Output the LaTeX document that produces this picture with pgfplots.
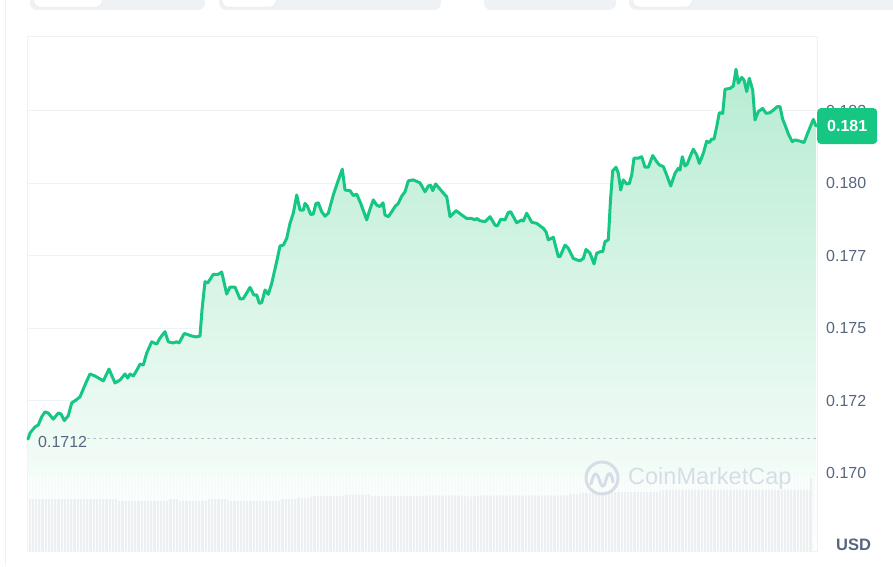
\documentclass[border=0pt]{standalone}
\usepackage{pgfplots}
\usepackage{pgfplotstable}
\pgfplotsset{compat=1.18}
\usepackage{fontspec}
\setmainfont{Liberation Sans}
\definecolor{cmcgreen}{HTML}{16C784}
\definecolor{gridgray}{HTML}{EFF2F5}
\definecolor{txtgray}{HTML}{58667E}
\definecolor{volgray}{HTML}{EDF0F3}
\definecolor{wm}{HTML}{D3DAE5}
\definecolor{dotgray}{HTML}{A6B0C3}
\definecolor{fillgreen}{RGB}{183,236,210}

\pgfplotstableread{
x y
0 0.17117
2 0.17138
7 0.17159
10.3 0.17166
13.7 0.17194
17 0.17211
20.3 0.17207
25.3 0.17186
30.3 0.17207
33 0.17204
36.3 0.17181
40.3 0.17198
43.7 0.17242
48 0.17252
52 0.17263
57 0.17304
62 0.17342
67 0.17335
72 0.17325
75.3 0.17318
81 0.17359
87 0.17311
92 0.17321
97 0.17342
99.7 0.17328
102 0.17342
105.3 0.17335
109 0.17356
112 0.17376
115.3 0.17373
118.7 0.17414
123.7 0.17453
128.7 0.17445
132 0.17466
137 0.17488
140.3 0.17453
145.3 0.17449
148.7 0.17453
151 0.17449
156.3 0.17482
163.7 0.17473
168 0.17470
172 0.17473
174 0.17563
177 0.17661
179.7 0.17656
185.3 0.17686
190.3 0.17686
193.7 0.17694
198.7 0.17618
202 0.17642
207 0.17642
212 0.17601
215.3 0.17602
222 0.17641
226 0.17614
228.7 0.17615
231.3 0.17586
233.7 0.17588
237 0.17632
240.3 0.17617
243.7 0.17655
248.7 0.17730
252 0.17784
255.3 0.17787
258.7 0.17810
262 0.17862
265.3 0.17897
268.7 0.17960
272 0.17908
275.3 0.17908
277 0.17931
279.3 0.17922
282.7 0.17893
285.3 0.17894
288 0.17931
290.3 0.17933
293.7 0.17902
297 0.17887
300.3 0.17897
305.3 0.17960
310 0.18008
314.3 0.18049
317 0.17977
322 0.17975
325.3 0.17958
328.7 0.17963
332.7 0.17931
338.7 0.17874
342 0.17911
345.3 0.17943
348.7 0.17925
352 0.17920
355 0.17933
357 0.17891
360.3 0.17885
363.7 0.17902
367 0.17920
370.3 0.17931
373.7 0.17956
377 0.17971
380.3 0.18009
385.3 0.18012
392 0.18002
397 0.17971
400.3 0.17991
402.7 0.17994
404.7 0.17975
407.7 0.17998
412 0.17980
417 0.17960
418.7 0.17954
422 0.17885
428 0.17906
433.7 0.17891
438.7 0.17879
443.7 0.17879
447 0.17874
448.7 0.17879
452 0.17871
457 0.17868
462 0.17885
467 0.17856
469.3 0.17853
472.7 0.17876
477 0.17874
480.3 0.17900
482.7 0.17902
488.7 0.17864
493.7 0.17874
495.3 0.17870
498.7 0.17897
503.7 0.17866
508.7 0.17862
515.3 0.17845
518 0.17833
520.3 0.17805
525.3 0.17814
530.3 0.17747
532 0.17747
537 0.17787
540.3 0.17776
545.3 0.17741
548.7 0.17736
552 0.17733
555.3 0.17741
558 0.17772
562 0.17759
566 0.17722
568.7 0.17759
572 0.17764
574.7 0.17764
577 0.17799
580.3 0.17805
582.5 0.17943
584.7 0.18043
588 0.18056
590.3 0.18035
592.7 0.17977
595.3 0.18012
598.7 0.17998
601.3 0.18000
603.7 0.18029
606 0.18087
610.3 0.18087
613.7 0.18092
617 0.18056
620.3 0.18056
624.7 0.18096
628.7 0.18075
631.3 0.18064
635.3 0.18058
638.7 0.18029
642.7 0.17991
647 0.18035
650.3 0.18052
652 0.18046
654.3 0.18092
657 0.18060
659.3 0.18067
662 0.18092
665.3 0.18118
668.7 0.18098
671.3 0.18069
675.3 0.18104
678.7 0.18146
681.3 0.18141
683.7 0.18153
686 0.18153
688.7 0.18196
691.3 0.18244
694.7 0.18242
697 0.18325
702 0.18328
705.3 0.18336
708 0.18394
710.3 0.18346
713.7 0.18366
716 0.18357
718.7 0.18317
721.3 0.18363
724.7 0.18322
727 0.18219
730.3 0.18248
734.7 0.18259
738 0.18242
742 0.18244
745.3 0.18253
749.3 0.18265
752 0.18265
754.7 0.18221
757 0.18202
760.3 0.18171
764.3 0.18144
767 0.18150
772 0.18146
776 0.18141
780.3 0.18179
785.3 0.18221
788 0.18198
}\price

\pgfplotstableread{
x v
0 52
90 50
140 52
150 50
179 52
200 50
252 52
268 53.5
283 55
316 56.5
342 55
392 55.3
440 54.5
447 55.3
540 57
552 58
572 59
632 61
782 73
785 0
789 0
}\volume

\begin{document}
\begin{tikzpicture}[x=1pt,y=1pt]
\useasboundingbox (0,0) rectangle (893,566);
\clip (0,0) rectangle (893,566);
\fill[white] (0,0) rectangle (893,566);
\draw[gridgray, line width=1pt] (5,0) -- (5,566);
\foreach \a/\b in {30/205,219/441,484/616,629/905}{\fill[gridgray, rounded corners=7pt] (\a,556) rectangle (\b,585);}
\foreach \a/\b in {34/102,222/276,633/692}{\filldraw[fill=white, draw=black!12, rounded corners=5pt] (\a,559) rectangle (\b,585);}

\begin{axis}[
  at={(28pt,15pt)}, anchor=south west, scale only axis,
  width=789pt, height=514pt,
  xmin=0, xmax=789, ymin=0.167307, ymax=0.185055,
  clip=false,
  axis line style={gridgray, line width=1pt},
  xtick=\empty,
  ytick={0.170,0.1725,0.175,0.1775,0.180,0.1825},
  yticklabels={0.170,0.172,0.175,0.177,0.180,0.182},
  yticklabel pos=right,
  ymajorgrids, major grid style={gridgray, line width=1pt},
  major tick length=0pt,
  yticklabel style={anchor=west, inner sep=0pt, xshift=9pt, text=txtgray, font=\fontsize{16}{18}\selectfont},
]
\addplot[draw=none, top color=fillgreen, bottom color=white, forget plot] table {\price} \closedcycle;
\addplot[dotgray, line width=1.2pt, dash pattern=on 1.2pt off 4.8pt, line cap=round, forget plot] coordinates {(60,0.1712) (789,0.1712)};
\addplot[cmcgreen, line width=3pt, line join=round, line cap=round] table {\price};
\node[anchor=west, inner sep=0pt, text=txtgray, font=\fontsize{16}{18}\selectfont] at (axis cs:10,0.17106) {0.1712};
\coordinate (last) at (axis cs:789,0.18198);
\end{axis}

\begin{axis}[
  at={(28pt,15pt)}, anchor=south west, scale only axis,
  width=789pt, height=75pt,
  xmin=0, xmax=789, ymin=0, ymax=75,
  axis on top,
  axis line style={draw=none},
  ytick=\empty,
  xtick={0,3.2,...,789},
  xticklabels={},
  major tick length=0pt,
  xmajorgrids, major grid style={white, line width=0.7pt, opacity=0.8},
]
\addplot[const plot, fill=volgray, draw=none] table {\volume} \closedcycle;
\end{axis}

% price badge
\node[anchor=west, fill=cmcgreen, text=white, rounded corners=4pt, minimum height=36pt, minimum width=60pt, inner sep=0pt, font=\bfseries\fontsize{16}{18}\selectfont] at (last) {0.181};
\node[font=\bfseries\fontsize{16.5}{18}\selectfont, text=txtgray] at (853.5,21) {USD};

% watermark
\begin{scope}[opacity=0.9]
\draw[wm, line width=3pt] (602,88) circle (16);
\draw[wm, line width=3pt, line join=round, line cap=round] (591,82) .. controls (594,95) and (597,95) .. (600,84) .. controls (602,78) and (604,78) .. (606,86) .. controls (608,95) and (611,95) .. (613,84);
\node[anchor=west, inner sep=0pt, text=wm, font=\fontsize{23.5}{26}\selectfont] at (628,88) {CoinMarketCap};
\end{scope}
\end{tikzpicture}
\end{document}
